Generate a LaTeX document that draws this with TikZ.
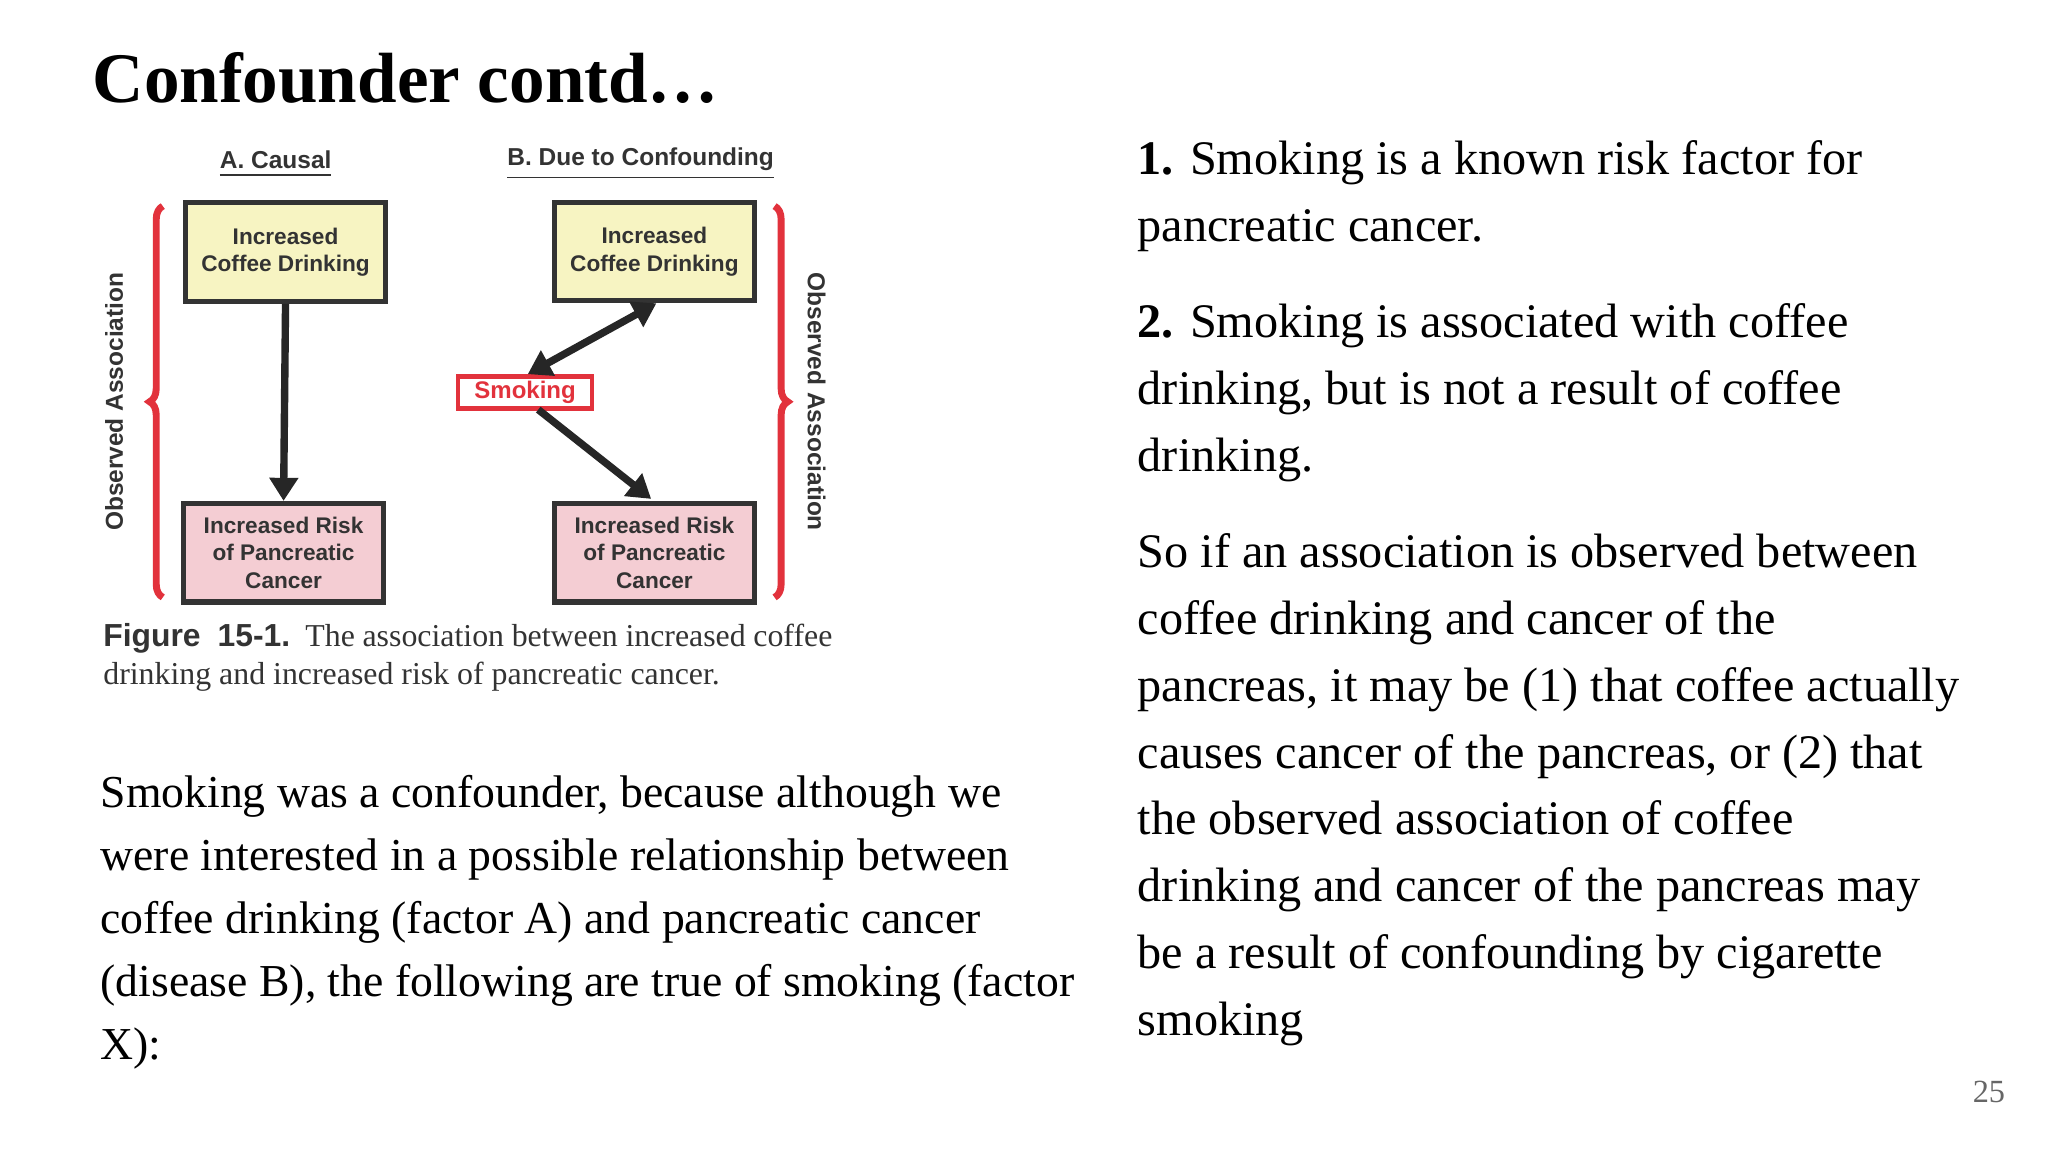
\documentclass[tikz,border=0pt]{standalone}
\usepackage{fontspec}
\setmainfont{Liberation Serif}
\setsansfont{Liberation Sans}
\usetikzlibrary{decorations.pathreplacing,arrows.meta}
\definecolor{yel}{HTML}{F7F4C2}
\definecolor{pnk}{HTML}{F4CDD3}
\definecolor{rd}{HTML}{E2323C}
\tikzset{
 fbox/.style={draw=black!80,line width=1.1pt,minimum width=1.52cm,minimum height=0.75cm,align=center,font=\sffamily\bfseries\fontsize{4.9}{6}\selectfont,text=black!80,inner sep=1pt},
 arr/.style={line width=1.6pt,black!85,-{Triangle[length=5pt,width=6pt]}},
 brc/.style={rd,line width=1.5pt,decorate,decoration={brace,amplitude=0.1cm}},
 hdr/.style={font=\sffamily\bfseries\fontsize{5.3}{6}\selectfont,text=black!80},
 body/.style={anchor=base west,inner sep=0pt,font=\fontsize{10.45}{12}\selectfont},
 lbody/.style={anchor=base west,inner sep=0pt,font=\fontsize{9.9}{12}\selectfont}
}
\begin{document}
\begin{tikzpicture}[x=0.01cm,y=-0.01cm]
\useasboundingbox (0,0) rectangle (1560,877.5);
\fill[white] (0,0) rectangle (1560,877.5);
\node[anchor=base west,inner sep=0pt,font=\bfseries\fontsize{15.4}{18}\selectfont] (title) at (70,78) {Confounder contd…};
% figure
\node[hdr] (ha) at (210,125) {\underline{A. Causal}};
\node[hdr] (hb) at (488,125) {\underline{B. Due to Confounding}};
\node[fbox,fill=yel] (a1) at (217.5,192) {Increased\\Coffee Drinking};
\node[fbox,fill=pnk] (a2) at (216,421) {Increased Risk\\of Pancreatic\\Cancer};
\node[fbox,fill=yel] (b1) at (498.5,191.5) {Increased\\Coffee Drinking};
\node[fbox,fill=pnk] (b2) at (498.5,421) {Increased Risk\\of Pancreatic\\Cancer};
\node[draw=rd,fill=white,line width=1pt,minimum width=1.02cm,minimum height=0.24cm,inner sep=1pt,font=\sffamily\bfseries\fontsize{5.2}{6}\selectfont,text=rd] (sm) at (400,299) {Smoking};
\draw[arr] (a1.south) -- (a2.north);
\draw[arr,{Triangle[length=5pt,width=6pt]}-{Triangle[length=5pt,width=6pt]}] (402,285) -- (500,231);
\draw[arr] (410,312) -- (496,380);
\coordinate (lb1) at (124,455); \coordinate (lb2) at (124,157);
\coordinate (rb1) at (590,157); \coordinate (rb2) at (590,455);
\draw[brc] (lb1) -- (lb2);
\draw[brc] (rb1) -- (rb2);
\node[hdr,rotate=90] (oa1) at (87,306) {Observed Association};
\node[hdr,rotate=-90] (oa2) at (622,306) {Observed Association};
\node[anchor=north west,inner sep=0pt,text width=5.55cm,align=justify,font=\fontsize{6.9}{8.2}\selectfont,text=black!80] (cap) at (78,474) {{\sffamily\bfseries Figure\ \ 15-1.}\ \ The association between increased coffee drinking and increased risk of pancreatic cancer.};
% left text
\node[lbody] (l0) at (76,615) {Smoking was a confounder, because although we};
\node[lbody] (l1) at (76,663) {were interested in a possible relationship between};
\node[lbody] (l2) at (76,711) {coffee drinking (factor A) and pancreatic cancer};
\node[lbody] (l3) at (76,759) {(disease B), the following are true of smoking (factor};
\node[lbody] (l4) at (76,807) {X):};
% right text
\node[body] (r0) at (866,133) {\textbf{1.} Smoking is a known risk factor for};
\node[body] (r1) at (866,184) {pancreatic cancer.};
\node[body] (r2) at (866,257) {\textbf{2.} Smoking is associated with coffee};
\node[body] (r3) at (866,308) {drinking, but is not a result of coffee};
\node[body] (r4) at (866,359) {drinking.};
\node[body] (s0) at (866,432) {So if an association is observed between};
\node[body] (s1) at (866,483) {coffee drinking and cancer of the};
\node[body] (s2) at (866,534) {pancreas, it may be (1) that coffee actually};
\node[body] (s3) at (866,585) {causes cancer of the pancreas, or (2) that};
\node[body] (s4) at (866,636) {the observed association of coffee};
\node[body] (s5) at (866,687) {drinking and cancer of the pancreas may};
\node[body] (s6) at (866,738) {be a result of confounding by cigarette};
\node[body] (s7) at (866,789) {smoking};
\node[anchor=base east,inner sep=0pt,font=\fontsize{7}{8}\selectfont,text=black!60] (pg) at (1528,840) {25};
\end{tikzpicture}
\end{document}
